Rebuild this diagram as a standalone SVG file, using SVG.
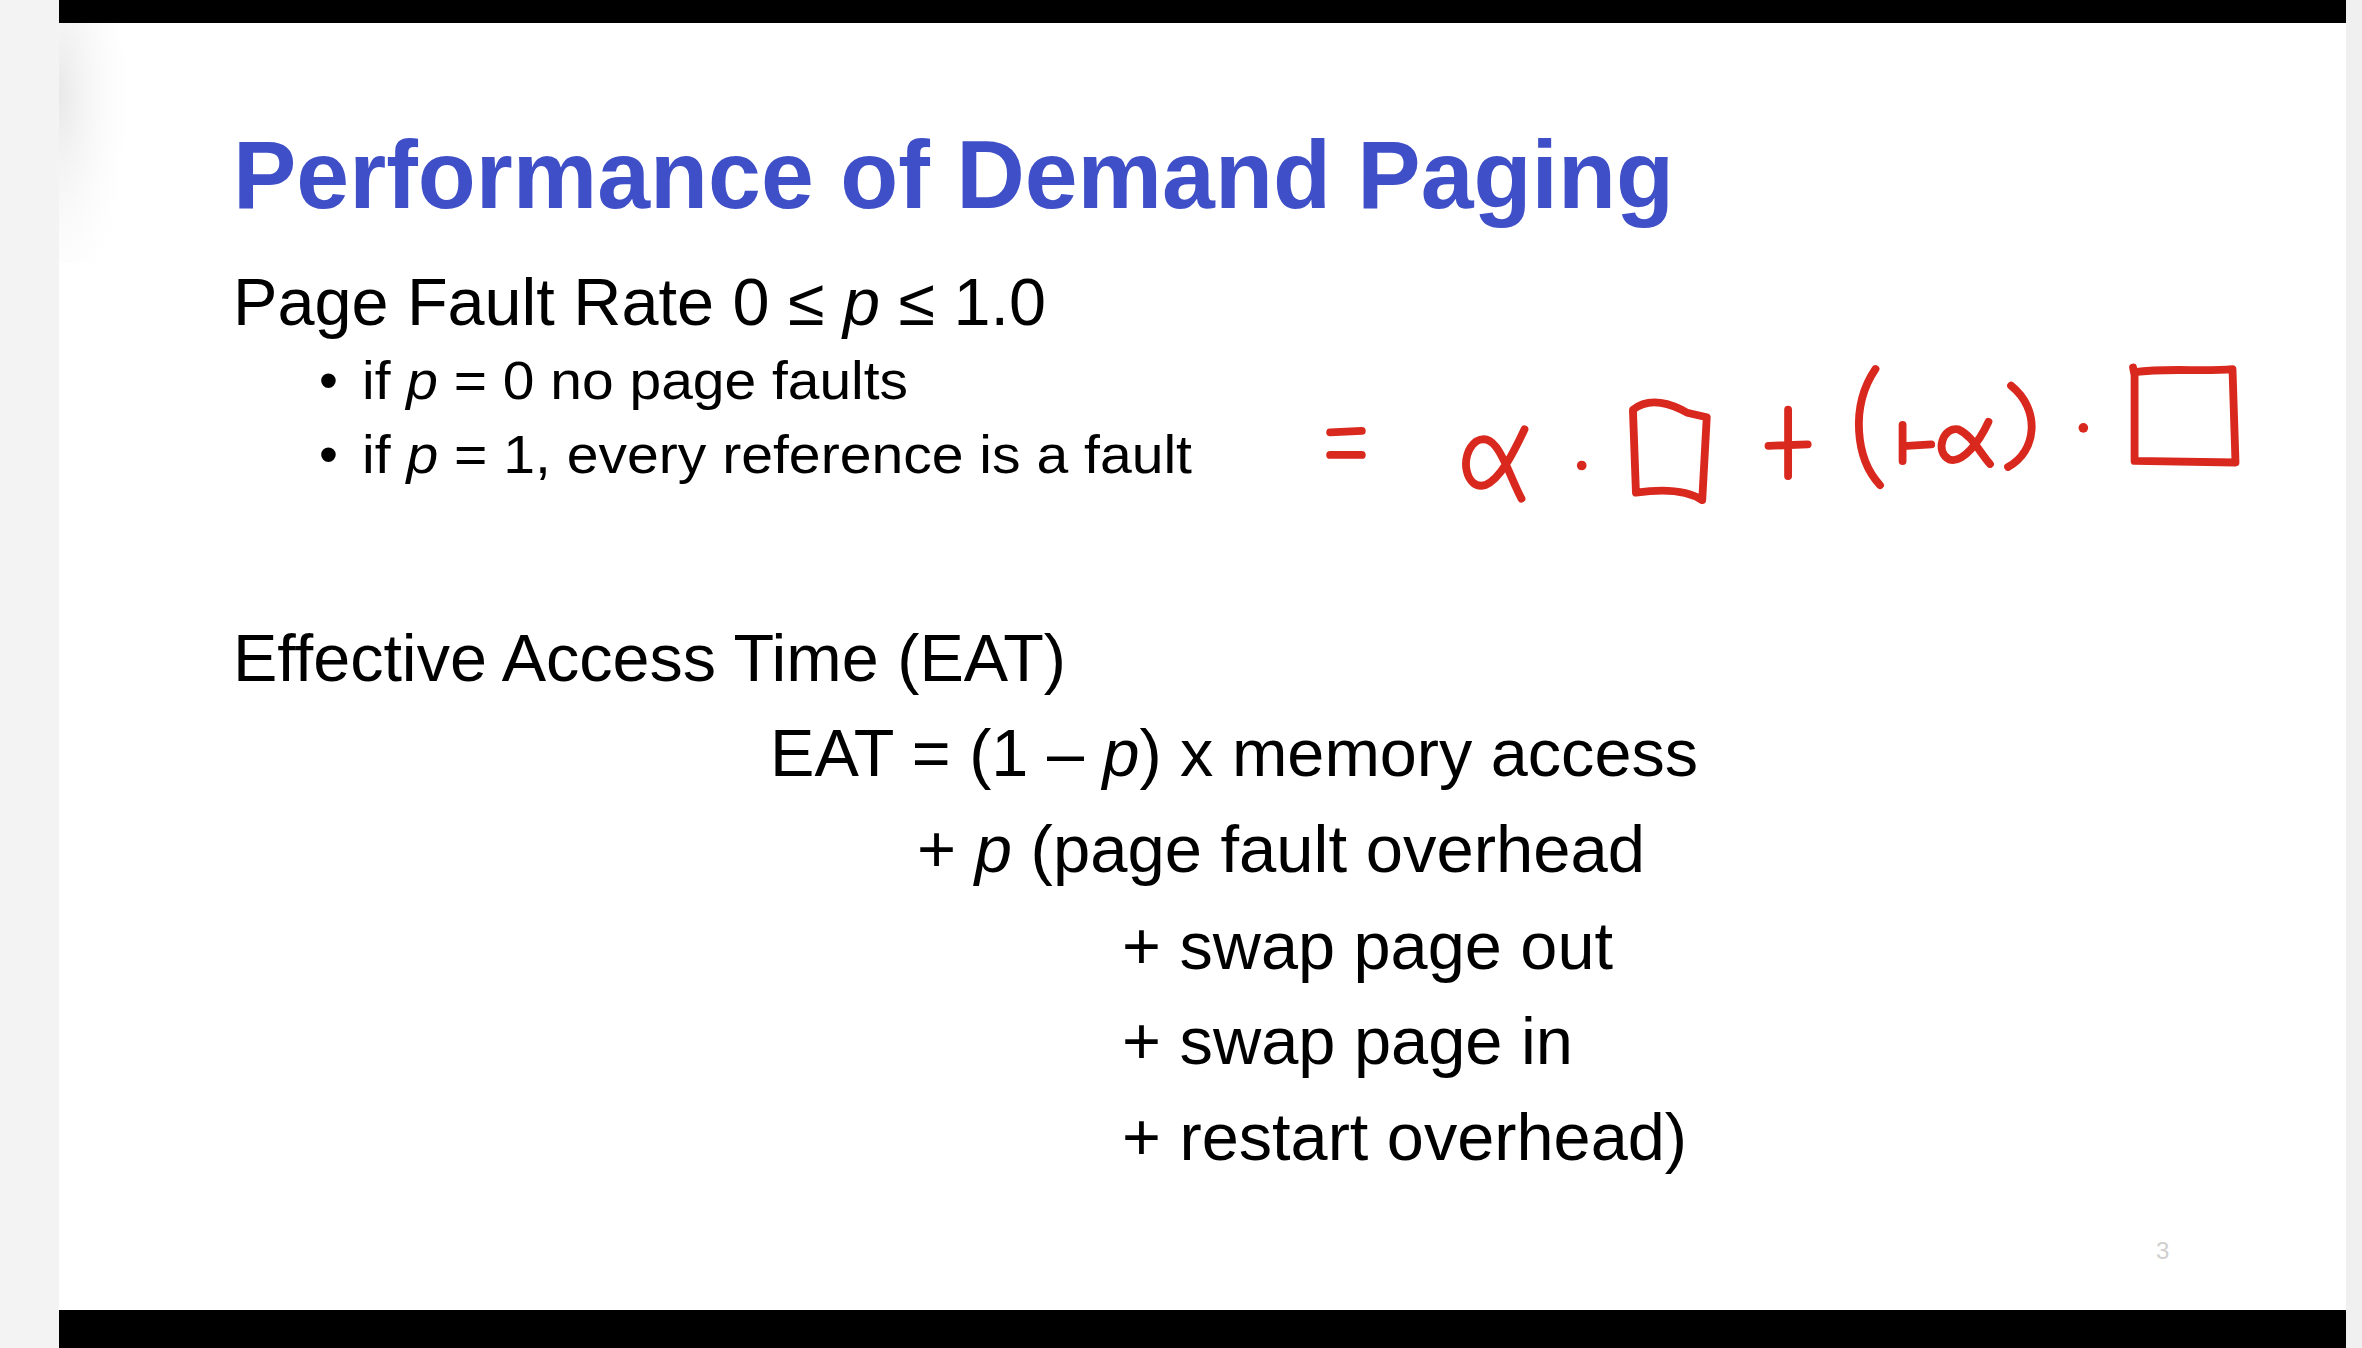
<svg xmlns="http://www.w3.org/2000/svg" width="2362" height="1348" viewBox="0 0 2362 1348">
<style>
.t{font-family:"Liberation Sans",Arial,sans-serif;fill:#000}
.b{font-size:66px}
.s{font-size:54px}
.i{font-style:italic}
.ink{fill:none;stroke:#D9281E;stroke-width:5.2;stroke-linecap:round;stroke-linejoin:round}
</style>
<defs>
<radialGradient id="sh" cx="0" cy="0.3" r="1"><stop offset="0" stop-color="#e8e8e8"/><stop offset="1" stop-color="#fff" stop-opacity="0"/></radialGradient>
</defs>
<rect width="2362" height="1348" fill="#fff"/>
<rect x="0" y="0" width="59" height="1348" fill="#f3f3f3"/>
<rect x="59" y="23" width="80" height="240" fill="url(#sh)"/>
<rect x="2346" y="0" width="16" height="1348" fill="#f0f0f0"/>
<rect x="59" y="0" width="2287" height="23" fill="#000"/>
<rect x="59" y="1310" width="2287" height="38" fill="#000"/>
<g id="title"><text class="t" x="233" y="208" font-size="96" font-weight="bold" style="fill:#3F4FC8" textLength="1441" lengthAdjust="spacingAndGlyphs">Performance of Demand Paging</text></g>
<g id="rate">
<text class="t b" x="233" y="325" textLength="813" lengthAdjust="spacingAndGlyphs">Page Fault Rate 0 ≤ <tspan class="i">p</tspan> ≤ 1.0</text>
<text class="t s" x="319" y="399">•</text>
<text class="t s" x="362" y="399" textLength="546" lengthAdjust="spacingAndGlyphs">if <tspan class="i">p</tspan> = 0 no page faults</text>
<text class="t s" x="319" y="473">•</text>
<text class="t s" x="362" y="473" textLength="830" lengthAdjust="spacingAndGlyphs">if <tspan class="i">p</tspan> = 1, every reference is a fault</text>
</g>
<g id="eat">
<text class="t b" x="233" y="681" textLength="833" lengthAdjust="spacingAndGlyphs">Effective Access Time (EAT)</text>
<text class="t b" x="770" y="776" textLength="928" lengthAdjust="spacingAndGlyphs">EAT = (1 – <tspan class="i">p</tspan>) x memory access</text>
<text class="t b" x="917" y="872" textLength="728" lengthAdjust="spacingAndGlyphs">+ <tspan class="i">p</tspan> (page fault overhead</text>
<text class="t b" x="1122" y="969" textLength="491" lengthAdjust="spacingAndGlyphs">+ swap page out</text>
<text class="t b" x="1122" y="1064" textLength="451" lengthAdjust="spacingAndGlyphs">+ swap page in</text>
<text class="t b" x="1122" y="1160" textLength="565" lengthAdjust="spacingAndGlyphs">+ restart overhead)</text>
</g>
<text class="t" x="2156" y="1259" font-size="24" style="fill:#d0d0d0">3</text>
<g id="handwriting" transform="scale(1.5064)">
<path class="ink" d="M883 287 L904 286 M883 302 L904 302"/>
<path class="ink" d="M1012 285 C1005 300 996 318 986 322 C973 326 968 302 980 293 C994 285 1000 312 1010 331"/>
<circle cx="1050" cy="309" r="3.2" fill="#D9281E"/>
<path class="ink" d="M1084 272 C1095 263 1110 268 1120 274 L1133 277 L1130 332 C1118 324 1100 325 1086 327 Z"/>
<path class="ink" d="M1187 272 L1187 316 M1174 296 L1200 295"/>
<path class="ink" d="M1245 245 C1228 270 1232 305 1248 322"/>
<path class="ink" d="M1263 282 L1263 306 M1266 296 L1282 295"/>
<path class="ink" d="M1320 280 C1314 293 1303 308 1294 305 C1284 300 1290 283 1300 285 C1309 289 1314 300 1321 308"/>
<path class="ink" d="M1335 256 C1355 272 1352 300 1333 310"/>
<circle cx="1383" cy="284" r="3.2" fill="#D9281E"/>
<path class="ink" d="M1417 249 L1416 244 M1417 247 C1440 244 1462 247 1482 245 L1484 307 L1417 306 Z"/>
</g>
</svg>
